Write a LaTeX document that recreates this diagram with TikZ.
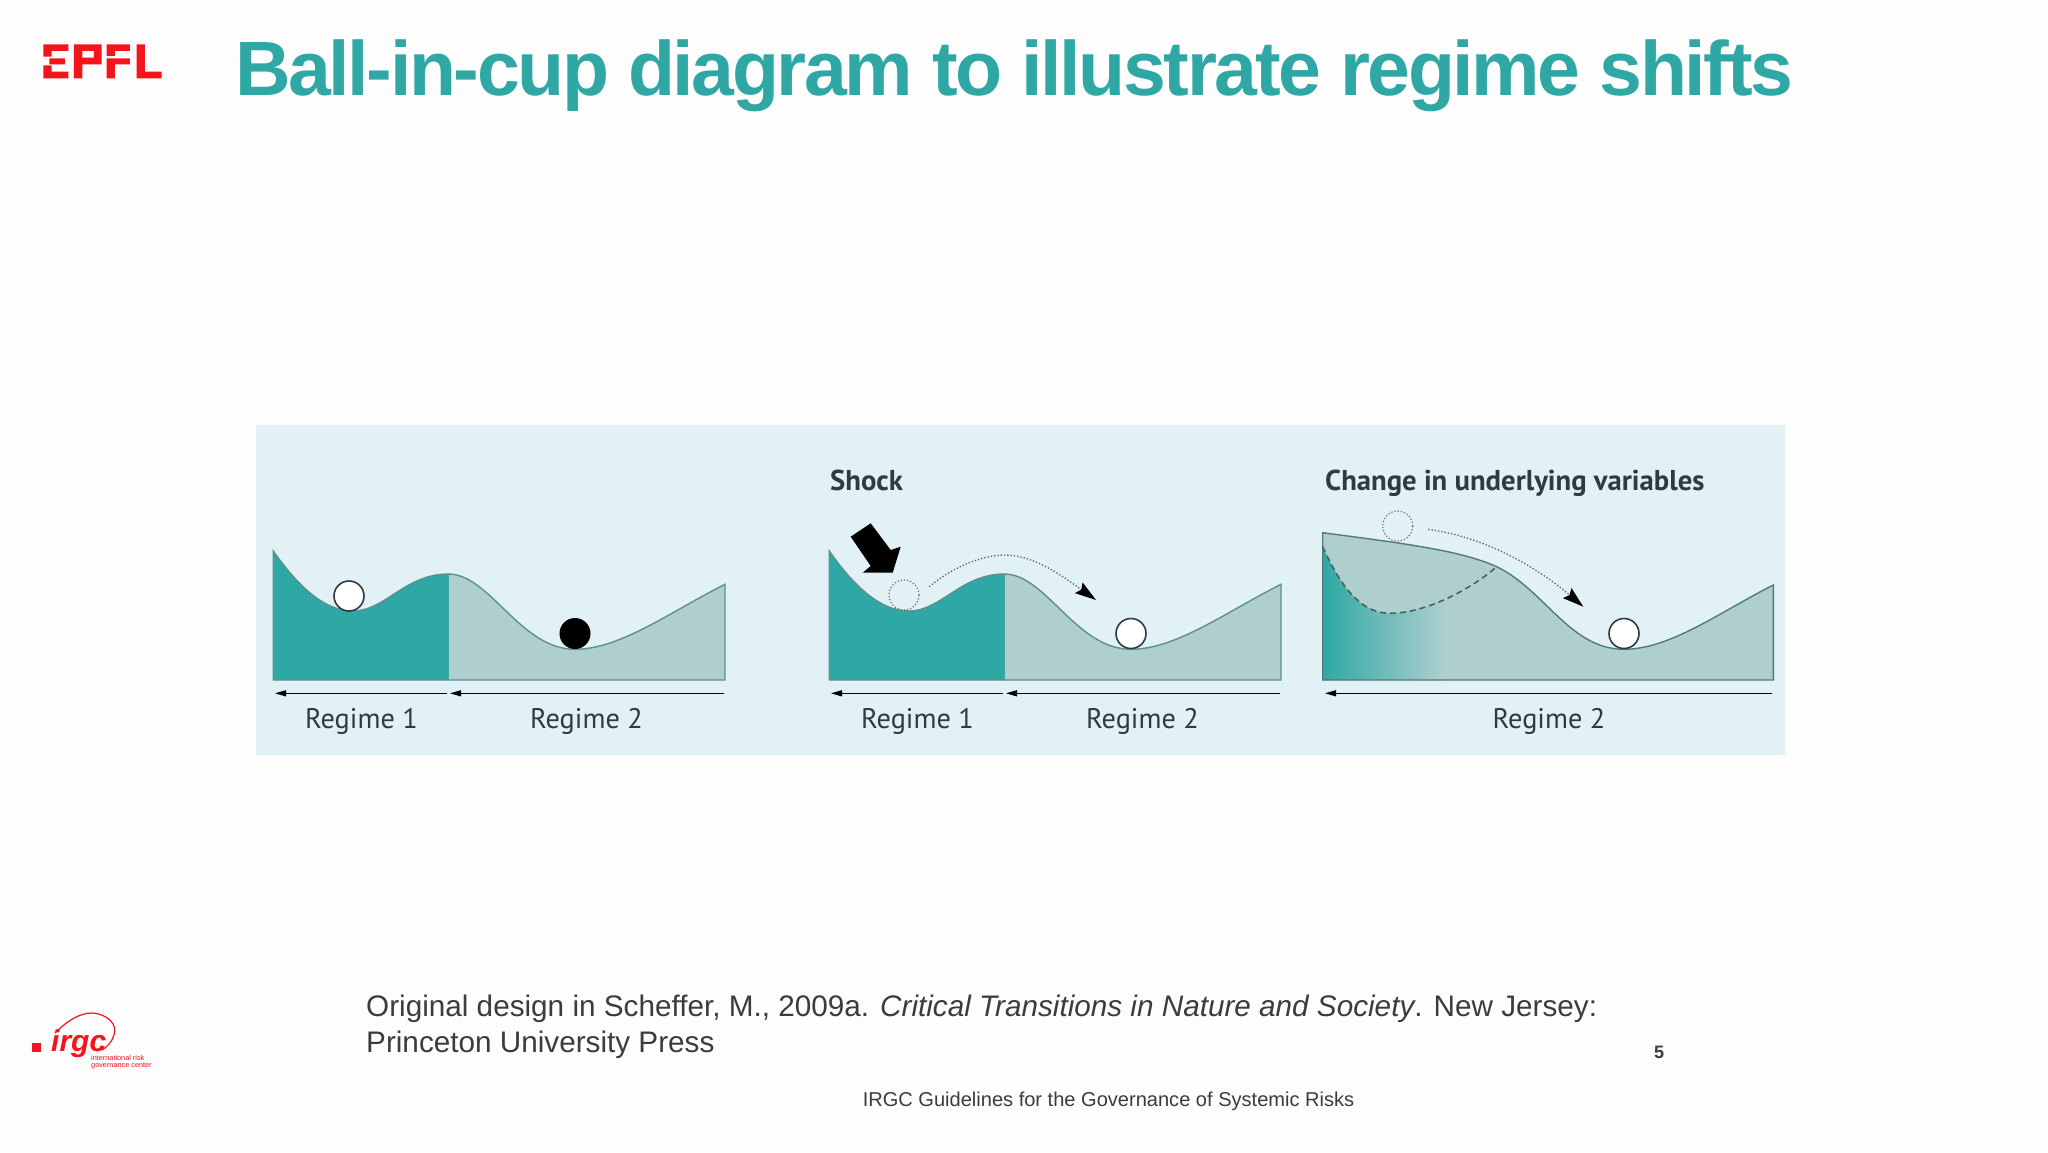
\documentclass[tikz,border=0pt]{standalone}
\usepackage{fontspec}
\usetikzlibrary{arrows.meta}
\setmainfont{Liberation Sans}
\newfontfamily\din{PT Sans}
\newfontfamily\titlefont[LetterSpace=-3.1]{Liberation Sans Bold}
\definecolor{bgc}{HTML}{FDFDFE}
\definecolor{panelc}{HTML}{E1F1F6}
\definecolor{tealc}{HTML}{2EA8A4}
\definecolor{lightc}{HTML}{AFCFCF}
\definecolor{edgec}{HTML}{5F8F8F}
\definecolor{titlec}{HTML}{2FA7A5}
\definecolor{inkc}{HTML}{2F3B44}
\definecolor{footc}{HTML}{3C3C3C}
\definecolor{redc}{HTML}{F5141C}
\newcommand{\fs}[1]{\fontsize{#1}{#1}\selectfont}
\newcommand{\cupcurve}{(273.3,551) .. controls (295,582) and (322,611) .. (353,611) .. controls (385,611) and (405,574) .. (448.3,574)}
\newcommand{\cuprest}{.. controls (490,574) and (520,649.3) .. (575,649.3) .. controls (620,649.3) and (670,612) .. (725,584.3)}
\tikzset{
  ballw/.style={circle,draw=inkc,line width=1.6pt,fill=white,minimum size=30pt,inner sep=0pt},
  ballk/.style={circle,fill=black,minimum size=31pt,inner sep=0pt},
  ballg/.style={circle,draw=gray!85!black,dotted,line width=1.2pt,minimum size=30pt,inner sep=0pt},
  regarrow/.style={line width=1.2pt,draw=black,-{Triangle[length=11pt,width=6pt]}},
  fly/.style={draw=inkc!80,dotted,line width=1.3pt,-{Triangle[length=21pt,width=13pt,inset=3pt,fill=black,color=black]}},
  reglabel/.style={font=\din\fs{28.3},text=inkc,inner sep=0pt},
  headlabel/.style={font=\din\bfseries\fs{28.7},text=inkc,inner sep=0pt,anchor=base west},
  edge/.style={draw=edgec,line width=1.4pt},
  redfill/.style={fill=redc,draw=none},
}
\begin{document}
\begin{tikzpicture}[x=1pt,y=-1pt]
\useasboundingbox (0,0) rectangle (2048,1152);
\fill[bgc] (0,0) rectangle (2048,1152);
% title
\node[anchor=base west,inner sep=0pt,font=\titlefont\fs{77},text=titlec] (title) at (235,95) {Ball-in-cup diagram to illustrate regime shifts};
% EPFL logo
\begin{scope}[shift={(0,0)},x=0.3333pt,y=-0.3333pt,redfill]
\fill (130,133) rectangle (205,153) (130,153) rectangle (155,170) (148,175) rectangle (195,193) (130,196) rectangle (155,215) (130,215) rectangle (205,235);
\fill (222,133) rectangle (247,235) (247,133) rectangle (305,153) (282,153) rectangle (305,193) (247,173) rectangle (282,193);
\fill (320,133) rectangle (390,153) (320,153) rectangle (345,168) (320,175) rectangle (345,235) (345,175) rectangle (390,193);
\fill (410,133) rectangle (435,235) (435,215) rectangle (485,235);
\end{scope}
% panel
\fill[panelc] (256,425) rectangle (1785,755);
% panel 1
\fill[lightc] (448.3,574) \cuprest -- (725,680) -- (448.3,680) -- cycle;
\fill[tealc] \cupcurve -- (448.3,680) -- (273.3,680) -- cycle;
\draw[edge] \cupcurve \cuprest -- (725,680) -- (273.3,680) -- cycle;
\draw[edge,draw=tealc!80!edgec] (448.3,574) -- (448.3,680);
\node[ballw] (b1) at (349,596) {};
\node[ballk] (b2) at (575,633.5) {};
\coordinate (r1a) at (447,693.3); \coordinate (r1b) at (275,693.3);
\coordinate (r2a) at (724,693.3); \coordinate (r2b) at (450,693.3);
\draw[regarrow] (r1a) -- (r1b);
\draw[regarrow] (r2a) -- (r2b);
\node[reglabel] (l1) at (361.5,721.5) {Regime 1};
\node[reglabel] (l2) at (586.5,721.5) {Regime 2};
% panel 2
\begin{scope}[shift={(556,0)}]
\fill[lightc] (448.3,574) \cuprest -- (725,680) -- (448.3,680) -- cycle;
\fill[tealc] \cupcurve -- (448.3,680) -- (273.3,680) -- cycle;
\draw[edge] \cupcurve \cuprest -- (725,680) -- (273.3,680) -- cycle;
\draw[edge,draw=tealc!80!edgec] (448.3,574) -- (448.3,680);
\node[ballg] (b3) at (348,595) {};
\node[ballw] (b4) at (575,633.5) {};
\coordinate (r3a) at (724,693.3); \coordinate (r3b) at (450,693.3);
\coordinate (r4a) at (447,693.3); \coordinate (r4b) at (275,693.3);
\draw[regarrow] (r4a) -- (r4b);
\draw[regarrow] (r3a) -- (r3b);
\node[reglabel] (l3) at (361.5,721.5) {Regime 1};
\node[reglabel] (l4) at (586.5,721.5) {Regime 2};
\end{scope}
\node[headlabel] (shock) at (830,490) {Shock};
\fill[black] (850.7,536.7) -- (870.7,523.3) -- (890.7,550) -- (900.7,546.7) -- (892.7,572.7) -- (862.7,572.7) -- (870.7,566) -- cycle;
\coordinate (f1s) at (929.3,586.7); \coordinate (f1e) at (1096,600);
\draw[fly] (f1s) .. controls (955,565) and (985,555) .. (1005,555) .. controls (1035,555) and (1065,578) .. (f1e);
% panel 3
\fill[lightc] (1322.7,532.7) .. controls (1400,543) and (1460,550) .. (1496.7,566.7) .. controls (1545,590) and (1570,649.3) .. (1624,649.3) .. controls (1670,649.3) and (1720,612) .. (1773.3,585) -- (1773.3,680) -- (1322.7,680) -- cycle;
\begin{scope}
\clip (1322.7,546.7) .. controls (1340,585) and (1360,613.3) .. (1390,613.3) .. controls (1425,613.3) and (1470,590) .. (1496.7,566.7) -- (1496.7,680) -- (1322.7,680) -- cycle;
\shade[left color=tealc,middle color=lightc!92!tealc,right color=lightc] (1322.7,530) rectangle (1445,681);
\end{scope}
\draw[edge,draw=edgec!85!black] (1322.7,532.7) .. controls (1400,543) and (1460,550) .. (1496.7,566.7) .. controls (1545,590) and (1570,649.3) .. (1624,649.3) .. controls (1670,649.3) and (1720,612) .. (1773.3,585) -- (1773.3,680) -- (1322.7,680) -- cycle;
\draw[edge,draw=edgec!70!black,dash pattern=on 6pt off 4pt,line width=1.6pt] (1322.7,546.7) .. controls (1340,585) and (1360,613.3) .. (1390,613.3) .. controls (1425,613.3) and (1470,590) .. (1496.7,566.7);
\node[ballg] (b5) at (1397.7,526) {};
\node[ballw] (b6) at (1624,633.5) {};
\coordinate (f2s) at (1428.3,529.3); \coordinate (f2e) at (1583.3,606.7);
\draw[fly] (f2s) .. controls (1490,538) and (1540,570) .. (f2e);
\coordinate (r5a) at (1771.7,693.3); \coordinate (r5b) at (1325,693.3);
\draw[regarrow] (r5a) -- (r5b);
\node[reglabel] (l5) at (1549,721.5) {Regime 2};
\node[headlabel] (change) at (1325,490) {Change in underlying variables};
% footer
\node[anchor=north west,inner sep=0pt,align=left,text=footc,font=\fs{29.7}] (cite) at (366,994.5) {Original design in Scheffer, M., 2009a. \textit{Critical Transitions in Nature and Society}. New Jersey:\\[7pt]Princeton University Press};
\node[font=\bfseries\fs{18},text=footc,inner sep=0pt] (pg) at (1659,1052) {5};
\node[font=\fs{20.05},text=footc,inner sep=0pt] (guide) at (1108.5,1101.5) {IRGC Guidelines for the Governance of Systemic Risks};
% IRGC logo
\fill[redc] (32.3,1043) rectangle (40.7,1051.7);
\node[anchor=base west,inner sep=0pt,font=\itshape\bfseries\fs{30},text=redc] (irgc) at (51,1051) {irgc};
\draw[redc,line width=1.2pt] (55,1033) .. controls (68,1020) and (80,1013) .. (92,1013) .. controls (108,1014) and (118,1025) .. (114,1035) .. controls (112,1042) and (107,1047) .. (102,1050);
\node[anchor=west,inner sep=0pt,font=\fs{7.3},text=redc] (irgc1) at (91,1057.5) {international risk};
\node[anchor=west,inner sep=0pt,font=\fs{7.3},text=redc] (irgc2) at (91,1066) {governance center};
\end{tikzpicture}
\end{document}
